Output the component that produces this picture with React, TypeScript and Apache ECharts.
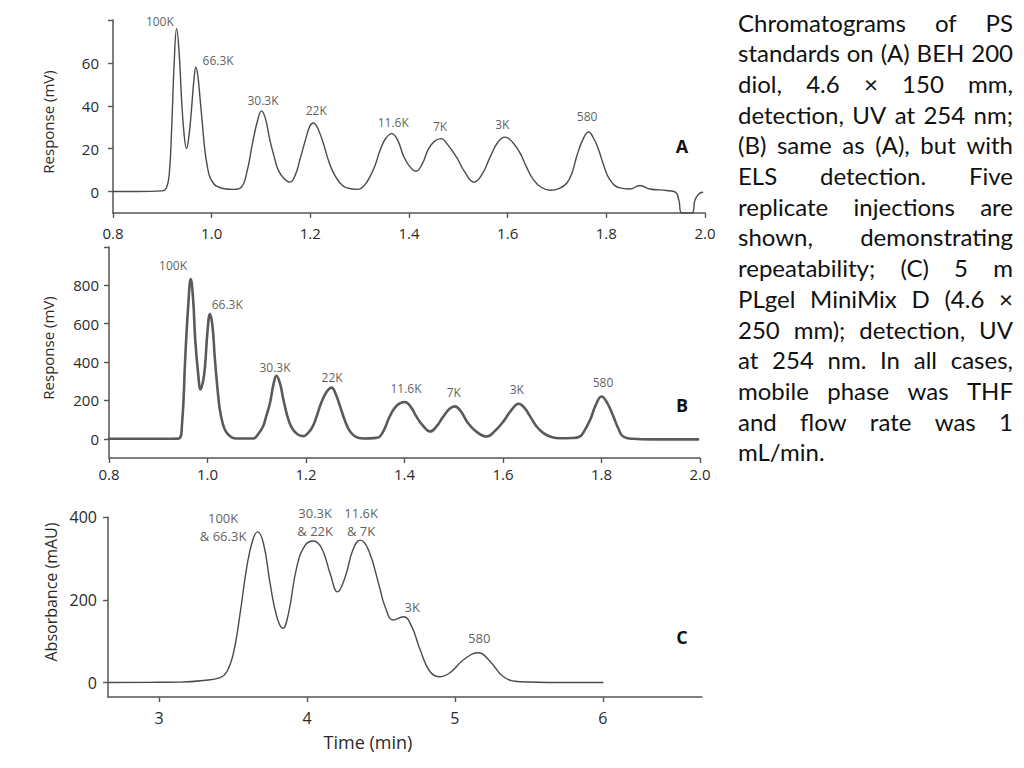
import React, { useEffect, useRef } from "react";
import * as echarts from "echarts";

// ---------- Panel A (UV, BEH 200 diol) ----------
const timeA = [0.8, 0.85, 0.9, 0.908, 0.914, 0.919, 0.924, 0.929, 0.934, 0.939, 0.944, 0.949, 0.954, 0.959, 0.964, 0.968, 0.972, 0.976, 0.981, 0.986, 0.991, 0.996, 1.003, 1.01, 1.025, 1.045, 1.06, 1.071, 1.084, 1.093, 1.101, 1.109, 1.118, 1.127, 1.135, 1.147, 1.159, 1.17, 1.179, 1.19, 1.199, 1.206, 1.214, 1.226, 1.236, 1.247, 1.26, 1.274, 1.297, 1.31, 1.321, 1.331, 1.341, 1.352, 1.365, 1.377, 1.389, 1.402, 1.414, 1.427, 1.439, 1.452, 1.465, 1.478, 1.497, 1.512, 1.532, 1.548, 1.564, 1.58, 1.595, 1.61, 1.625, 1.638, 1.652, 1.668, 1.686, 1.705, 1.72, 1.731, 1.74, 1.752, 1.764, 1.775, 1.784, 1.795, 1.807, 1.827, 1.848, 1.868, 1.888, 1.922, 1.94, 1.947, 1.953, 1.973, 1.98, 1.988, 1.995];
const respA = [0, 0, 0.3, 1.5, 8, 30, 60, 76, 65, 43, 27, 20, 26, 38, 52, 58, 54, 44.6, 32, 19.7, 12, 7, 4, 2.5, 1.3, 1, 2, 8.7, 24, 33, 37.6, 34, 24, 16, 10, 6, 4.4, 8, 15, 24, 30.5, 32, 30, 22.8, 15, 8.7, 4, 1.7, 1, 3, 7, 12, 19, 24.5, 27, 24, 16.5, 11.5, 9.5, 13, 19.7, 23.5, 24.7, 22, 15.8, 9.5, 4.4, 8, 15.8, 23, 25.4, 23, 18, 11.5, 5.6, 2, 0.6, 1.5, 4, 9, 16.5, 24, 27.8, 24.5, 19.7, 12, 5.6, 1.7, 1.2, 2.8, 1.2, 0.5, -0.3, -4, -10, -10, -3.7, -1, -0.3];

// ---------- Panel B (ELS, five replicate injections) ----------
const timeB = [0.8, 0.9, 0.941, 0.948, 0.955, 0.961, 0.966, 0.971, 0.975, 0.981, 0.986, 0.991, 0.995, 1.0, 1.005, 1.01, 1.015, 1.02, 1.025, 1.032, 1.039, 1.049, 1.059, 1.093, 1.103, 1.113, 1.12, 1.127, 1.134, 1.14, 1.147, 1.154, 1.162, 1.171, 1.182, 1.194, 1.204, 1.214, 1.222, 1.231, 1.242, 1.252, 1.26, 1.269, 1.279, 1.289, 1.3, 1.316, 1.343, 1.35, 1.36, 1.37, 1.385, 1.401, 1.413, 1.424, 1.437, 1.452, 1.465, 1.479, 1.491, 1.502, 1.514, 1.529, 1.547, 1.567, 1.585, 1.601, 1.617, 1.632, 1.644, 1.655, 1.668, 1.682, 1.7, 1.716, 1.74, 1.756, 1.766, 1.777, 1.789, 1.8, 1.812, 1.824, 1.834, 1.844, 1.864, 1.9, 1.95, 1.996];
const respB = [0, 0, 1, 66, 432, 700, 833, 720, 519, 340, 258, 300, 380, 560, 650, 590, 415, 270, 153, 70, 31, 8, 2, 2, 25, 66, 125, 188, 285, 328, 290, 206, 120, 58, 25, 14, 30, 66, 120, 188, 245, 267, 235, 171, 95, 40, 12, 2, 5, 12, 55, 117, 175, 192, 165, 117, 70, 38, 65, 117, 155, 169, 145, 82, 35, 12, 45, 91, 150, 183, 160, 117, 65, 30, 8, 3, 4, 12, 45, 99, 180, 221, 185, 117, 55, 12, 0, -3, -3, -3];

// ---------- Panel C (PLgel MiniMix D) ----------
const timeC = [2.66, 3.0, 3.143, 3.3, 3.413, 3.458, 3.503, 3.548, 3.593, 3.633, 3.667, 3.706, 3.751, 3.796, 3.837, 3.875, 3.931, 3.988, 4.044, 4.1, 4.157, 4.206, 4.258, 4.31, 4.359, 4.416, 4.49, 4.528, 4.584, 4.652, 4.708, 4.765, 4.832, 4.9, 4.968, 5.058, 5.159, 5.238, 5.328, 5.441, 5.7, 6.0];
const absC = [0, 0.5, 1, 5, 12, 26, 71, 167, 279, 344, 364, 336, 239, 159, 131, 167, 279, 332, 342, 324, 263, 219, 255, 320, 344, 320, 231, 183, 151, 159, 135, 79, 26, 14, 24, 55, 72, 51, 14, 2, 0, 0];

// ---------- Peak labels (anchored in data coordinates) ----------
const peakNamesA = ["100K", "66.3K", "30.3K", "22K", "11.6K", "7K", "3K", "580"];
const peakLabelTimeA = [0.895, 1.013, 1.104, 1.212, 1.368, 1.463, 1.589, 1.761];
const peakLabelRespA = [79.5, 60.9, 42.6, 37.9, 32.3, 30.4, 31.4, 35.1];

const peakNamesB = ["100K", "66.3K", "30.3K", "22K", "11.6K", "7K", "3K", "580"];
const peakLabelTimeB = [0.93, 1.04, 1.137, 1.253, 1.403, 1.5, 1.628, 1.803];
const peakLabelRespB = [905, 701, 371, 319, 261, 240, 256, 293];

const peakNamesC = ["100K\n& 66.3K", "30.3K\n& 22K", "11.6K\n& 7K", "3K", "580"];
const peakLabelTimeC = [3.433, 4.055, 4.366, 4.711, 5.164];
const peakLabelAbsC = [375, 387, 387, 182, 108];

// ---------- Ticks ----------
const yTicksA = [0, 20, 40, 60, 80];
const yLabelsA = [0, 20, 40, 60];
const yTicksB = [0, 200, 400, 600, 800, 1000];
const yLabelsB = [0, 200, 400, 600, 800];
const yTicksC = [0, 200, 400];
const xTicksC = [3, 4, 5, 6];

const panelLetters = ["A", "B", "C"];

const captionLines = [
  "Chromatograms of PS",
  "standards on (A) BEH 200",
  "diol, 4.6 × 150 mm,",
  "detection, UV at 254 nm;",
  "(B) same as (A), but with",
  "ELS detection. Five",
  "replicate injections are",
  "shown, demonstrating",
  "repeatability; (C) 5 m",
  "PLgel MiniMix D (4.6 ×",
  "250 mm); detection, UV",
  "at 254 nm. In all cases,",
  "mobile phase was THF",
  "and flow rate was 1",
  "mL/min.",
];

const FONT = '"Open Sans", "DejaVu Sans", sans-serif';
const CAP_FONT = "Lato";
const AX = "#555";
const TXT = "#2a2a2a";
const LINE = "#4a4a4a";

const zip = (xs: number[], ys: number[]) => xs.map((x, i) => [x, ys[i]]);

export default function App() {
  const ref = useRef<HTMLDivElement>(null);

  useEffect(() => {
    if (!ref.current) return;
    const chart = echarts.init(ref.current, null, { renderer: "svg" });

    const axisLine = { show: true, onZero: false, lineStyle: { color: AX, width: 1.5 } };
    const tick = (custom?: number[]) => ({
      show: true,
      length: 5,
      inside: false,
      ...(custom ? { customValues: custom } : {}),
      lineStyle: { color: AX, width: 1.4 },
    });
    const lbl = (size: number, margin: number, extra: any = {}) => ({
      fontSize: size,
      margin,
      color: TXT,
      fontFamily: FONT,
      ...extra,
    });

    const lineSeries = (idx: number, data: number[][], width: number, color: string) => ({
      type: "line",
      xAxisIndex: idx,
      yAxisIndex: idx,
      data,
      symbol: "none",
      showSymbol: false,
      smooth: 0.45,
      lineStyle: { color, width, join: "round", cap: "round" },
      silent: true,
      clip: true,
    });

    const labelSeries = (idx: number, data: number[][], names: string[], size: number, lh: number) => ({
      type: "scatter",
      xAxisIndex: idx,
      yAxisIndex: idx,
      data,
      symbolSize: 1,
      itemStyle: { color: "rgba(0,0,0,0)" },
      clip: false,
      silent: true,
      label: {
        show: true,
        position: "inside",
        formatter: (p: any) => names[p.dataIndex],
        fontSize: size,
        lineHeight: lh,
        color: "#333",
        fontFamily: FONT,
      },
    });

    // Justified caption on the right, built word by word
    const ctx = document.createElement("canvas").getContext("2d")!;
    const capSize = 24;
    ctx.font = `${capSize}px ${CAP_FONT}`;
    const capLeft = 738;
    const capWidth = 275;
    const capElems: any[] = [];
    captionLines.forEach((line, i) => {
      const y = 22 + i * 30.7;
      const words = line.split(" ");
      const base = { fontSize: capSize, fontFamily: CAP_FONT, fill: "#111", verticalAlign: "middle", align: "left" };
      if (i === captionLines.length - 1 || words.length === 1) {
        capElems.push({ type: "text", x: capLeft, y, silent: true, style: { ...base, text: line } });
        return;
      }
      const widths = words.map((w) => ctx.measureText(w).width);
      const total = widths.reduce((a, b) => a + b, 0);
      const gap = (capWidth - total) / (words.length - 1);
      let x = capLeft;
      words.forEach((w, j) => {
        capElems.push({ type: "text", x, y, silent: true, style: { ...base, text: w } });
        x += widths[j] + gap;
      });
    });

    const letterPos = [
      [682, 146],
      [682, 405],
      [682, 637],
    ];

    const option: any = {
      animation: false,
      grid: [
        { left: 113, top: 20, width: 592, height: 193 },
        { left: 109, top: 247, width: 591, height: 211 },
        { left: 108, top: 517, width: 594, height: 180 },
      ],
      xAxis: [
        {
          gridIndex: 0, type: "value", min: 0.8, max: 2.0, interval: 0.2,
          axisLine, axisTick: tick(), splitLine: { show: false },
          axisLabel: lbl(15, 12, { formatter: (v: number) => v.toFixed(1) }),
        },
        {
          gridIndex: 1, type: "value", min: 0.8, max: 2.0, interval: 0.2,
          axisLine, axisTick: tick(), splitLine: { show: false },
          axisLabel: lbl(15, 8, { formatter: (v: number) => v.toFixed(1) }),
        },
        {
          gridIndex: 2, type: "value", min: 2.655, max: 6.67,
          axisLine, axisTick: tick(xTicksC), splitLine: { show: false },
          axisLabel: lbl(16, 13, { customValues: xTicksC, formatter: (v: number) => String(v) }),
        },
      ],
      yAxis: [
        {
          gridIndex: 0, type: "value", min: -10, max: 80,
          axisLine, axisTick: tick(yTicksA), splitLine: { show: false },
          axisLabel: lbl(15, 14, { customValues: yLabelsA }),
        },
        {
          gridIndex: 1, type: "value", min: -100, max: 1000,
          axisLine, axisTick: tick(yTicksB), splitLine: { show: false },
          axisLabel: lbl(15, 10, { customValues: yLabelsB }),
        },
        {
          gridIndex: 2, type: "value", min: -35, max: 400,
          axisLine, axisTick: tick(yTicksC), splitLine: { show: false },
          axisLabel: lbl(16, 11, { customValues: yTicksC }),
        },
      ],
      series: [
        lineSeries(0, zip(timeA, respA), 1.4, LINE),
        lineSeries(1, zip(timeB, respB), 2.6, "#5a5a5a"),
        lineSeries(2, zip(timeC, absC), 1.4, LINE),
        labelSeries(0, zip(peakLabelTimeA, peakLabelRespA), peakNamesA, 12, 14),
        labelSeries(1, zip(peakLabelTimeB, peakLabelRespB), peakNamesB, 12, 14),
        labelSeries(2, zip(peakLabelTimeC, peakLabelAbsC), peakNamesC, 13, 18),
      ],
      graphic: [
        ...panelLetters.map((t, i) => ({
          type: "text", x: letterPos[i][0], y: letterPos[i][1], silent: true,
          style: { text: t, fontSize: 18, fontWeight: "bold", fontFamily: FONT, fill: "#111", align: "center", verticalAlign: "middle" },
        })),
        {
          type: "text", x: 48, y: 122, rotation: Math.PI / 2, silent: true,
          style: { text: "Response (mV)", fontSize: 15, fontFamily: FONT, fill: TXT, align: "center", verticalAlign: "middle" },
        },
        {
          type: "text", x: 48, y: 348, rotation: Math.PI / 2, silent: true,
          style: { text: "Response (mV)", fontSize: 15, fontFamily: FONT, fill: TXT, align: "center", verticalAlign: "middle" },
        },
        {
          type: "text", x: 51, y: 592, rotation: Math.PI / 2, silent: true,
          style: { text: "Absorbance (mAU)", fontSize: 16, fontFamily: FONT, fill: TXT, align: "center", verticalAlign: "middle" },
        },
        {
          type: "text", x: 368, y: 742, silent: true,
          style: { text: "Time (min)", fontSize: 18, fontFamily: FONT, fill: TXT, align: "center", verticalAlign: "middle" },
        },
        ...capElems,
      ],
    };

    chart.setOption(option);
    return () => chart.dispose();
  }, []);

  return (
    <div
      ref={ref}
      style={{ position: "absolute", left: 0, top: 0, width: 1024, height: 768, background: "#fff" }}
    />
  );
}
